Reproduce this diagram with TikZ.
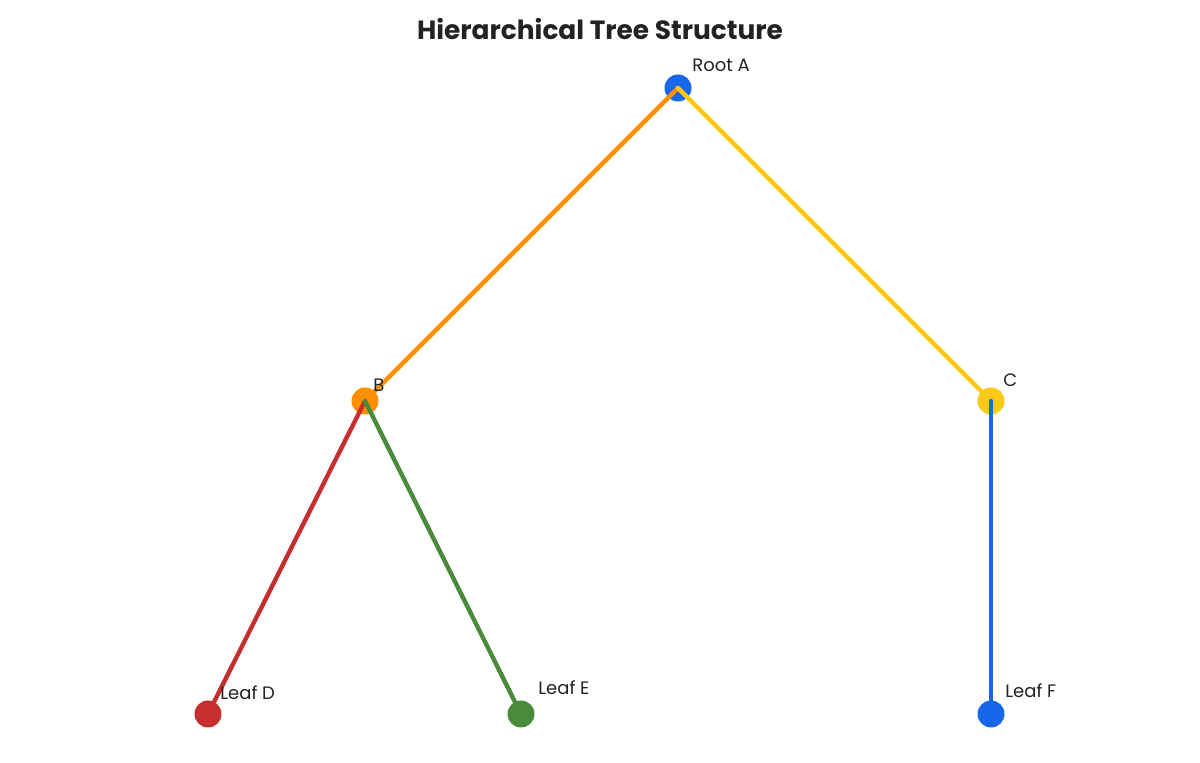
\documentclass[tikz,border=0pt]{standalone}
\usepackage{fontspec}
\setmainfont{Poppins}
\usepackage{tikz}
\usetikzlibrary{positioning}

\definecolor{nodeblue}{HTML}{1767E8}
\definecolor{nodeorange}{HTML}{FF8F00}
\definecolor{nodeyellow}{HTML}{FBC918}
\definecolor{nodered}{HTML}{C62F2F}
\definecolor{nodegreen}{HTML}{4A8B3B}
\definecolor{textgray}{HTML}{222222}

\tikzset{
  treenode/.style={circle, minimum size=13.5pt, inner sep=0pt},
  treeedge/.style={line width=2.2pt, line cap=round},
  nodelabel/.style={anchor=base west, inner sep=0pt, font=\fontsize{9}{11}\selectfont, text=textgray}
}

\begin{document}
\begin{tikzpicture}[x=0.5pt,y=-0.5pt]
\useasboundingbox (0,0) rectangle (1200,763);
\node[font=\fontsize{13.2}{16}\selectfont\bfseries, text=textgray] (title) at (600,29) {Hierarchical Tree Structure};
% nodes
\node[treenode, fill=nodeblue] (A) at (678,88) {};
\node[treenode, fill=nodeorange] (B) at (365,401) {};
\node[treenode, fill=nodeyellow] (C) at (991,401) {};
\node[treenode, fill=nodered] (D) at (208,714) {};
\node[treenode, fill=nodegreen] (E) at (521,714) {};
\node[treenode, fill=nodeblue] (F) at (991,714) {};
% edges
\draw[treeedge, nodeorange] (A.center) -- (B.center);
\draw[treeedge, nodeyellow] (A.center) -- (C.center);
\draw[treeedge, nodered] (B.center) -- (D.center);
\draw[treeedge, nodegreen] (B.center) -- (E.center);
\draw[treeedge, nodeblue] (C.center) -- (F.center);
% labels
\node[nodelabel] (labA) at ([xshift=7pt,yshift=8pt]A.center) {Root A};
\node[nodelabel] (labB) at ([xshift=4pt,yshift=4.5pt]B.center) {B};
\node[nodelabel] (labC) at ([xshift=6pt,yshift=7pt]C.center) {C};
\node[nodelabel] (labD) at ([xshift=6pt,yshift=7pt]D.center) {Leaf D};
\node[nodelabel] (labE) at ([xshift=8.5pt,yshift=9.5pt]E.center) {Leaf E};
\node[nodelabel] (labF) at ([xshift=7pt,yshift=8pt]F.center) {Leaf F};
\end{tikzpicture}
\end{document}
